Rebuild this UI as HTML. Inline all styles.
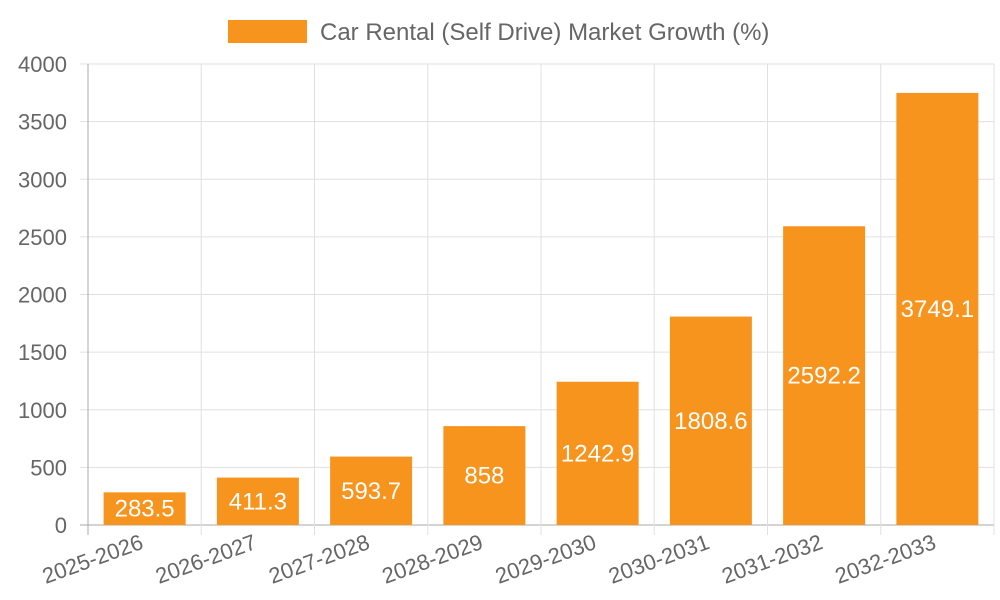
<!DOCTYPE html>
<html><head><meta charset="utf-8"><style>
body{margin:0;background:#fff;}
svg{display:block;font-family:"Liberation Sans",sans-serif;}
</style></head><body>
<svg id="chart" width="1000" height="600">
<rect x="228" y="20" width="79" height="23" fill="#F7941D"/>
<text x="320" y="40" font-size="24" fill="#666">Car Rental (Self Drive) Market Growth (%)</text>
<g id="grid"></g><g id="bars"></g>
</svg>
<script>
const categories=["2025-2026","2026-2027","2027-2028","2028-2029","2029-2030","2030-2031","2031-2032","2032-2033"];
const values=[283.5,411.3,593.7,858,1242.9,1808.6,2592.2,3749.1];
const yTicks=[0,500,1000,1500,2000,2500,3000,3500,4000];
const NS="http://www.w3.org/2000/svg";
const x0=88,x1=994,y0=525,y1=64,yMax=4000;
const bw=(x1-x0)/categories.length;
const y=v=>y0-(v/yMax)*(y0-y1);
const xc=i=>x0+bw*(i+0.5);
const grid=document.getElementById('grid'),bars=document.getElementById('bars');
function mk(t,a,p){const e=document.createElementNS(NS,t);for(const k in a)e.setAttribute(k,a[k]);p.appendChild(e);return e;}
yTicks.forEach(v=>{
 const l=mk('line',{x1:x0-8,x2:x1,y1:y(v),y2:y(v),stroke:v===0?'#aaa':'#e0e0e0','stroke-width':1},grid);
 
 
 const t=mk('text',{x:67,y:y(v)+8,'text-anchor':'end','font-size':22,fill:'#666'},grid);
 t.textContent=v;
 
 
});
for(let i=0;i<=categories.length;i++){
 const xx=x0+bw*i;
 const l=mk('line',{x1:xx,x2:xx,y1:y1,y2:y0+10,stroke:i===0?'#aaa':'#e0e0e0','stroke-width':1},grid);
 
 
}
categories.forEach((c,i)=>{
 const r=mk('rect',{x:xc(i)-41,y:y(values[i]),width:82,height:y0-y(values[i]),fill:'#F7941D'},bars);
 
 
 const t=mk('text',{x:xc(i),y:(y(values[i])+y0)/2+8,'text-anchor':'middle','font-size':24,fill:'#fff'},bars);
 t.textContent=values[i];
 
 
 const xl=mk('text',{x:xc(i),y:548,'text-anchor':'end','font-size':22,fill:'#666',transform:`rotate(-20 ${xc(i)} 548)`},grid);
 xl.textContent=c;
 
 
});
</script>
</body></html>
